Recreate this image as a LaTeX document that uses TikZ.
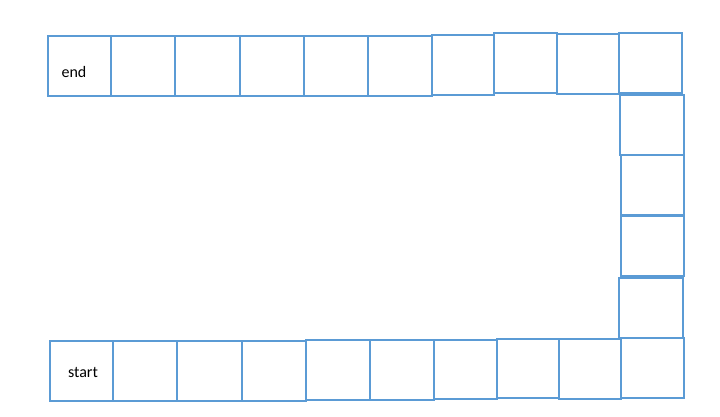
\documentclass[tikz,border=0pt]{standalone}
\usepackage{fontspec}
\setmainfont{Carlito}
\definecolor{cellblue}{HTML}{5B9BD5}
\begin{document}
\begin{tikzpicture}[x=1pt,y=-1pt,
  cell/.style={draw=cellblue,line width=2pt,inner sep=0pt,minimum width=63pt,minimum height=60pt},
  lbl/.style={font=\fontsize{16}{19}\selectfont,inner sep=0pt}]
\useasboundingbox (0,0) rectangle (720,416);
% top row
\node[cell] (c1)  at (79.5,66) {};
\node[cell,minimum width=64pt] (c2)  at (143,66) {};
\node[cell,minimum width=65pt] (c3)  at (207.5,66) {};
\node[cell,minimum width=64pt] (c4)  at (272,66) {};
\node[cell,minimum width=64pt] (c5)  at (336,66) {};
\node[cell,minimum width=64pt] (c6)  at (400,66) {};
\node[cell,minimum width=62pt] (c7)  at (463,65) {};
\node[cell] (c8)  at (525.5,63) {};
\node[cell,minimum width=62pt] (c9)  at (588,64) {};
\node[cell] (c10) at (650.5,63) {};
% right column
\node[cell,minimum width=64pt] (c11) at (651.5,125) {};
\node[cell] (c12) at (652.5,185) {};
\node[cell] (c13) at (652.5,246) {};
\node[cell,minimum width=64pt] (c14) at (651,308) {};
% bottom row
\node[cell] (c15) at (652.5,368) {};
\node[cell,minimum width=62pt] (c16) at (590,369) {};
\node[cell,minimum width=62pt,minimum height=59pt] (c17) at (528,368.5) {};
\node[cell,minimum height=59pt] (c18) at (465.5,369.5) {};
\node[cell,minimum width=64pt] (c19) at (402,370) {};
\node[cell,minimum width=64pt] (c20) at (338,370) {};
\node[cell,minimum width=64pt] (c21) at (274,370.5) {};
\node[cell,minimum width=65pt] (c22) at (209.5,370.5) {};
\node[cell,minimum width=64pt] (c23) at (145,370.5) {};
\node[cell] (c24) at (81.5,370.5) {};
% labels
\node[lbl] (endlbl) at (74,72) {end};
\node[lbl] (startlbl) at (83,372.5) {start};
\end{tikzpicture}
\end{document}
